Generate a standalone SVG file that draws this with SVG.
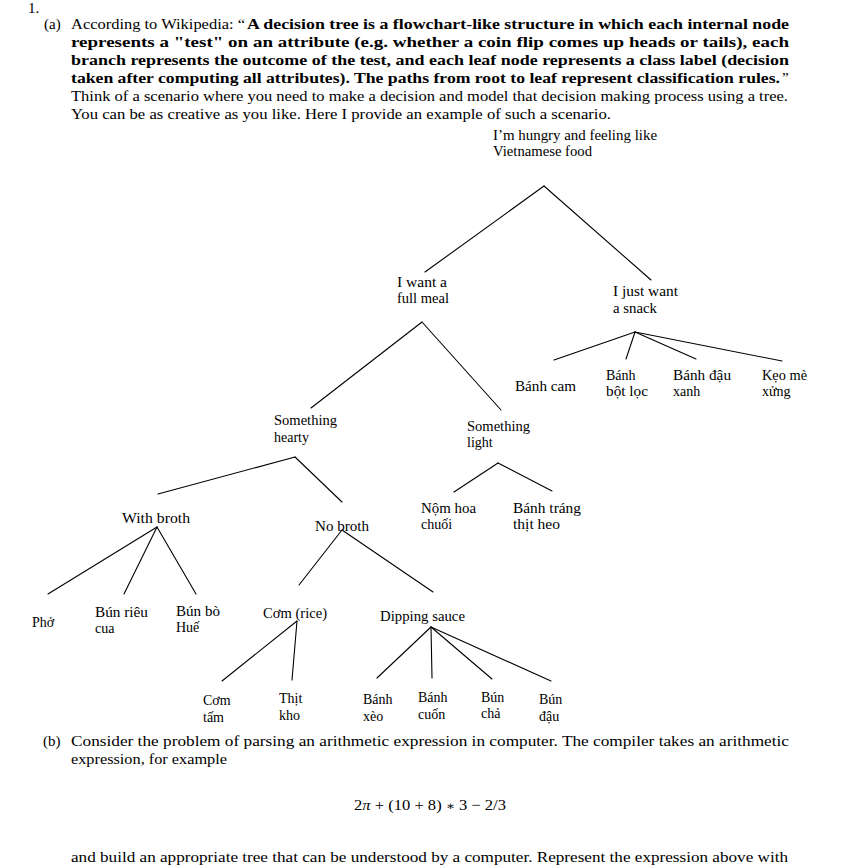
<svg xmlns="http://www.w3.org/2000/svg" width="851" height="865" viewBox="0 0 851 865">
<style>
.b{font-family:"Liberation Serif","Times New Roman",serif;font-size:15px;fill:#000}
.bd{font-weight:bold}
.t{font-family:"Liberation Serif","Times New Roman",serif;font-size:14px;fill:#000}
.c line{stroke:#000;stroke-width:1.1;stroke-linecap:round}
</style>
<rect width="851" height="865" fill="#fff"/>
<g id="text-a">
<text class="b" x="28" y="13">1.</text>
<text class="b" x="44" y="29">(a)</text>
<text class="b" x="71" y="29" textLength="174" lengthAdjust="spacingAndGlyphs">According to Wikipedia: “</text>
<text class="b bd" x="247" y="29" textLength="542" lengthAdjust="spacingAndGlyphs">A decision tree is a flowchart-like structure in which each internal node</text>
<text class="b bd" x="71" y="47" textLength="718" lengthAdjust="spacingAndGlyphs">represents a "test" on an attribute (e.g. whether a coin flip comes up heads or tails), each</text>
<text class="b bd" x="71" y="65" textLength="718" lengthAdjust="spacingAndGlyphs">branch represents the outcome of the test, and each leaf node represents a class label (decision</text>
<text class="b bd" x="71" y="83" textLength="709" lengthAdjust="spacingAndGlyphs">taken after computing all attributes). The paths from root to leaf represent classification rules.</text>
<text class="b" x="782" y="83">”</text>
<text class="b" x="71" y="101" textLength="717" lengthAdjust="spacingAndGlyphs">Think of a scenario where you need to make a decision and model that decision making process using a tree.</text>
<text class="b" x="71" y="119" textLength="540" lengthAdjust="spacingAndGlyphs">You can be as creative as you like. Here I provide an example of such a scenario.</text>
</g>
<g class="c" id="connectors">
<line x1="544" y1="186" x2="425" y2="272"/>
<line x1="544" y1="186" x2="651" y2="280"/>
<line x1="422" y1="322" x2="311" y2="408"/>
<line x1="422" y1="322" x2="501" y2="410"/>
<line x1="635" y1="332" x2="554" y2="360"/>
<line x1="635" y1="332" x2="626" y2="359"/>
<line x1="635" y1="332" x2="696" y2="359"/>
<line x1="635" y1="332" x2="782" y2="361"/>
<line x1="295" y1="457" x2="158" y2="494"/>
<line x1="295" y1="457" x2="342" y2="502"/>
<line x1="498" y1="463" x2="454" y2="492"/>
<line x1="498" y1="463" x2="552" y2="491"/>
<line x1="157" y1="527" x2="48" y2="594"/>
<line x1="157" y1="527" x2="124" y2="594"/>
<line x1="157" y1="527" x2="196" y2="594"/>
<line x1="342" y1="530" x2="299" y2="585"/>
<line x1="342" y1="530" x2="433" y2="592"/>
<line x1="297" y1="621" x2="222" y2="681"/>
<line x1="297" y1="621" x2="292" y2="680"/>
<line x1="431" y1="627" x2="377" y2="678"/>
<line x1="431" y1="627" x2="432" y2="678"/>
<line x1="431" y1="627" x2="492" y2="679"/>
<line x1="431" y1="627" x2="551" y2="681"/>
</g>
<g id="root"><text class="t" x="493" y="140" textLength="164" lengthAdjust="spacingAndGlyphs">I’m hungry and feeling like</text><text class="t" x="493" y="156" textLength="99" lengthAdjust="spacingAndGlyphs">Vietnamese food</text></g>
<g id="full-meal"><text class="t" x="397" y="287" textLength="50" lengthAdjust="spacingAndGlyphs">I want a</text><text class="t" x="397" y="303" textLength="52" lengthAdjust="spacingAndGlyphs">full meal</text></g>
<g id="snack"><text class="t" x="613" y="296" textLength="65" lengthAdjust="spacingAndGlyphs">I just want</text><text class="t" x="613" y="313" textLength="44" lengthAdjust="spacingAndGlyphs">a snack</text></g>
<g id="banh-cam"><text class="t" x="515" y="391" textLength="61" lengthAdjust="spacingAndGlyphs">Bánh cam</text></g>
<g id="banh-bot-loc"><text class="t" x="606" y="380">Bánh</text><text class="t" x="606" y="396" textLength="42" lengthAdjust="spacingAndGlyphs">bột lọc</text></g>
<g id="banh-dau-xanh"><text class="t" x="673" y="380" textLength="58" lengthAdjust="spacingAndGlyphs">Bánh đậu</text><text class="t" x="673" y="396">xanh</text></g>
<g id="keo-me-xung"><text class="t" x="762" y="380" textLength="45" lengthAdjust="spacingAndGlyphs">Kẹo mè</text><text class="t" x="762" y="396">xửng</text></g>
<g id="hearty"><text class="t" x="274" y="425" textLength="63" lengthAdjust="spacingAndGlyphs">Something</text><text class="t" x="274" y="442">hearty</text></g>
<g id="light"><text class="t" x="467" y="431" textLength="63" lengthAdjust="spacingAndGlyphs">Something</text><text class="t" x="467" y="447">light</text></g>
<g id="nom-hoa-chuoi"><text class="t" x="421" y="513" textLength="55" lengthAdjust="spacingAndGlyphs">Nộm hoa</text><text class="t" x="421" y="529">chuối</text></g>
<g id="banh-trang"><text class="t" x="513" y="513" textLength="68" lengthAdjust="spacingAndGlyphs">Bánh tráng</text><text class="t" x="513" y="529" textLength="47" lengthAdjust="spacingAndGlyphs">thịt heo</text></g>
<g id="with-broth"><text class="t" x="122" y="523" textLength="68" lengthAdjust="spacingAndGlyphs">With broth</text></g>
<g id="no-broth"><text class="t" x="315" y="531" textLength="54" lengthAdjust="spacingAndGlyphs">No broth</text></g>
<g id="pho"><text class="t" x="32" y="627">Phở</text></g>
<g id="bun-rieu"><text class="t" x="95" y="617" textLength="53" lengthAdjust="spacingAndGlyphs">Bún riêu</text><text class="t" x="95" y="633">cua</text></g>
<g id="bun-bo-hue"><text class="t" x="176" y="616" textLength="44" lengthAdjust="spacingAndGlyphs">Bún bò</text><text class="t" x="176" y="632">Huế</text></g>
<g id="com"><text class="t" x="263" y="618" textLength="64" lengthAdjust="spacingAndGlyphs">Cơm (rice)</text></g>
<g id="dipping"><text class="t" x="380" y="621" textLength="85" lengthAdjust="spacingAndGlyphs">Dipping sauce</text></g>
<g id="com-tam"><text class="t" x="203" y="705">Cơm</text><text class="t" x="203" y="722">tấm</text></g>
<g id="thit-kho"><text class="t" x="279" y="703">Thịt</text><text class="t" x="279" y="720">kho</text></g>
<g id="banh-xeo"><text class="t" x="363" y="704">Bánh</text><text class="t" x="363" y="721">xèo</text></g>
<g id="banh-cuon"><text class="t" x="418" y="702">Bánh</text><text class="t" x="418" y="719">cuốn</text></g>
<g id="bun-cha"><text class="t" x="481" y="702">Bún</text><text class="t" x="481" y="718">chả</text></g>
<g id="bun-dau"><text class="t" x="539" y="704">Bún</text><text class="t" x="539" y="721">đậu</text></g>
<g id="text-b">
<text class="b" x="43" y="746">(b)</text>
<text class="b" x="71" y="746" textLength="718" lengthAdjust="spacingAndGlyphs">Consider the problem of parsing an arithmetic expression in computer. The compiler takes an arithmetic</text>
<text class="b" x="71" y="764" textLength="156" lengthAdjust="spacingAndGlyphs">expression, for example</text>
<text class="b" x="354" y="810" textLength="152" lengthAdjust="spacingAndGlyphs">2<tspan font-style="italic">π</tspan> + (10 + 8) <tspan font-family="DejaVu Serif" font-size="12">∗</tspan> 3 − 2/3</text>
<text class="b" x="71" y="862" textLength="717" lengthAdjust="spacingAndGlyphs">and build an appropriate tree that can be understood by a computer. Represent the expression above with</text>
</g>
</svg>
